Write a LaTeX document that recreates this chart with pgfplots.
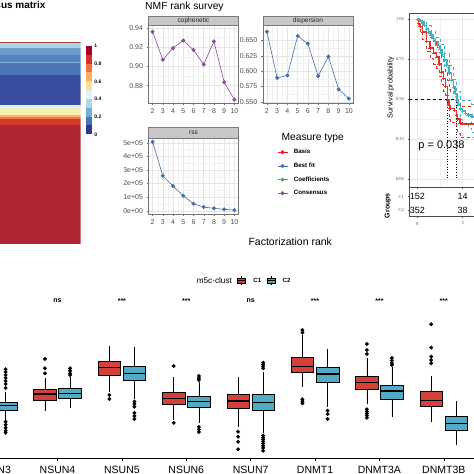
\documentclass[border=0pt]{standalone}
\usepackage{pgfplots}
\pgfplotsset{compat=1.18}
\usepgfplotslibrary{statistics}
\usepackage{fontspec}
\setmainfont{Liberation Sans}
\newfontfamily\serifsmall{Liberation Serif}
\newcommand{\fs}[1]{\fontsize{#1}{#1}\selectfont}

% NMF measure colours
\definecolor{basisred}{HTML}{E41A1C}
\definecolor{bestblue}{HTML}{466EA9}
\definecolor{coefgreen}{HTML}{4DAF4A}
\definecolor{conspurple}{HTML}{8E4A9E}
% survival and boxplot colours
\definecolor{kmred}{HTML}{E2312B}
\definecolor{kmteal}{HTML}{43B2BE}
\definecolor{boxred}{HTML}{D6403B}
\definecolor{boxblue}{HTML}{52AAC3}
\definecolor{stripfill}{HTML}{C8C8C8}
\definecolor{stripline}{HTML}{7A7A7A}
\definecolor{tickgrey}{HTML}{4D4D4D}
% RdYlBu steps, low to high
\definecolor{rb0}{HTML}{313695}
\definecolor{rb1}{HTML}{4575B4}
\definecolor{rb2}{HTML}{74ADD1}
\definecolor{rb3}{HTML}{ABD9E9}
\definecolor{rb4}{HTML}{E0F3F8}
\definecolor{rb5}{HTML}{FEE090}
\definecolor{rb6}{HTML}{FDAE61}
\definecolor{rb7}{HTML}{F46D43}
\definecolor{rb8}{HTML}{D73027}
\definecolor{rb9}{HTML}{A50026}
% consensus matrix row blocks
\definecolor{hmA}{HTML}{9E4A4A}
\definecolor{hmB}{HTML}{A9D3E6}
\definecolor{hmC}{HTML}{6A9CCB}
\definecolor{hmD}{HTML}{5582C0}
\definecolor{hmE}{HTML}{7FAED6}
\definecolor{hmF}{HTML}{4D76B8}
\definecolor{hmG}{HTML}{3A4CA0}
\definecolor{hmH}{HTML}{D7EEF2}
\definecolor{hmI}{HTML}{F2EFB5}
\definecolor{hmJ}{HTML}{FBB765}
\definecolor{hmK}{HTML}{F07A47}
\definecolor{hmL}{HTML}{D43A2C}
\definecolor{hmM}{HTML}{AE2631}

% one horizontal block of the matrix / colour bar
\newcommand{\band}[3]{\addplot[fill=#1, draw=none] coordinates {(0,#2) (1,#2) (1,#3) (0,#3)};}
% one box: position, fill, lower whisker, q1, median, q3, upper whisker, outliers
\newcommand{\bx}[8]{\addplot[forget plot, boxplot prepared={draw direction=y, draw position=#1, lower whisker=#3, lower quartile=#4, median=#5, upper quartile=#6, upper whisker=#7, box extend=0.35, whisker extend=0}, fill=#2, draw=black, line width=0.6pt, mark=*, mark size=1.8pt, mark options={fill=black, draw=black, line width=0.3pt}] coordinates {#8};}

\pgfplotsset{
  nmf/.style={scale only axis, width=90pt, height=78pt, anchor=south west,
    xmin=1.6, xmax=10.4, xtick={2,3,4,5,6,7,8,9,10},
    minor x tick num=1, minor y tick num=1, grid=both,
    major grid style={draw=black!10, line width=0.45pt},
    minor grid style={draw=black!5, line width=0.3pt},
    axis line style={draw=black!55, line width=0.5pt},
    tick pos=left, tick align=outside, major tick length=2pt, minor tick length=0pt,
    every tick/.style={draw=black!55, line width=0.4pt},
    tick label style={font=\fs{7}, text=tickgrey},
    /pgf/number format/assume math mode=true},
  nmfline/.style={line width=0.6pt, mark=*, mark size=1.7pt},
  boxplot/every median/.style={line width=1.3pt},
}

\begin{document}
\begin{tikzpicture}
\useasboundingbox (0pt,0pt) rectangle (474pt,474pt);
\clip (0pt,0pt) rectangle (474pt,474pt);

% ---------- consensus matrix ----------
\begin{axis}[at={(0pt,229.7pt)}, anchor=south west, scale only axis, width=80.7pt, height=202.3pt,
  xmin=0, xmax=1, ymin=0, ymax=504, y dir=reverse, hide axis]
\band{hmA}{0}{3.2}
\band{hmB}{3.2}{15.7}
\band{hmC}{15.7}{32.4}
\band{hmD}{32.4}{49.1}
\band{hmE}{49.1}{53.1}
\band{hmF}{53.1}{82.2}
\band{hmG}{82.2}{157}
\band{hmH}{157}{165.3}
\band{hmI}{165.3}{182}
\band{hmJ}{182}{187.7}
\band{hmK}{187.7}{192.7}
\band{hmL}{192.7}{206.8}
\band{hmM}{206.8}{504}
\end{axis}
\node[anchor=base east, font=\fs{10}\bfseries] at (49pt,465pt) {Consensus matrix};

% colour bar
\begin{axis}[at={(86pt,339.7pt)}, anchor=south west, scale only axis, width=6.3pt, height=88.3pt,
  xmin=0, xmax=1, ymin=0, ymax=1, axis line style={draw=none}, xtick=\empty,
  ytick={0,0.2,0.4,0.6,0.8,1}, yticklabel pos=right, major tick length=0pt,
  yticklabel style={font=\fs{5}\bfseries, xshift=-1.5pt},
  /pgf/number format/assume math mode=true]
\band{rb0}{0}{0.1}
\band{rb1}{0.1}{0.2}
\band{rb2}{0.2}{0.3}
\band{rb3}{0.3}{0.4}
\band{rb4}{0.4}{0.5}
\band{rb5}{0.5}{0.6}
\band{rb6}{0.6}{0.7}
\band{rb7}{0.7}{0.8}
\band{rb8}{0.8}{0.9}
\band{rb9}{0.9}{1}
\end{axis}

% ---------- NMF rank survey ----------
\node[anchor=base west, font=\fs{10.3}] at (141.7pt,464pt) {NMF rank survey};

\begin{axis}[nmf, at={(148.5pt,371pt)}, ymin=0.862, ymax=0.943, ytick={0.88,0.90,0.92,0.94},
  yticklabel style={/pgf/number format/.cd, fixed, fixed zerofill, precision=2}]
\addplot[conspurple, nmfline] coordinates {(2,0.936) (3,0.907) (4,0.919) (5,0.927) (6,0.917) (7,0.902) (8,0.926) (9,0.8835) (10,0.8655)};
\end{axis}

\begin{axis}[nmf, at={(262.8pt,371pt)}, width=90.2pt, ymin=0.5484, ymax=0.6748,
  ytick={0.55,0.575,0.6,0.625,0.65},
  yticklabel style={/pgf/number format/.cd, fixed, fixed zerofill, precision=3}]
\addplot[bestblue, nmfline] coordinates {(2,0.664) (3,0.589) (4,0.593) (5,0.657) (6,0.6445) (7,0.592) (8,0.6236) (9,0.5705) (10,0.5555)};
\end{axis}

\begin{axis}[nmf, at={(148.5pt,260pt)}, height=76pt, ymin=-24000, ymax=535000,
  ytick={0,100000,200000,300000,400000,500000},
  yticklabels={0e+00,1e+05,2e+05,3e+05,4e+05,5e+05}, scaled y ticks=false,
  legend style={at={(axis description cs:1.428,0.855)}, anchor=north west, draw=none, fill=none,
    inner sep=0pt, row sep=7.7pt, column sep=6pt,
    nodes={inner sep=0pt, font=\fs{6.2}\bfseries, text height=4.5pt, text depth=1.5pt}},
  legend cell align=left,
  legend image code/.code={\draw[mark repeat=2, mark phase=2, #1] plot coordinates {(0pt,0pt) (5pt,0pt) (10pt,0pt)};}]
\addlegendimage{basisred, nmfline}
\addlegendentry{Basis}
\addlegendimage{bestblue, nmfline}
\addlegendentry{Best fit}
\addlegendimage{coefgreen, nmfline}
\addlegendentry{Coefficients}
\addlegendimage{conspurple, nmfline}
\addlegendentry{Consensus}
\addplot[bestblue, nmfline, forget plot] coordinates {(2,507000) (3,257000) (4,182000) (5,110000) (6,51000) (7,27000) (8,18000) (9,10000) (10,5000)};
\end{axis}

% facet strips
\draw[fill=stripfill, draw=stripline, line width=0.5pt] (148.5pt,458pt) rectangle (238.5pt,449pt);
\node[font=\fs{6.6}, text=black!85] at (193.5pt,453.5pt) {cophenetic};
\draw[fill=stripfill, draw=stripline, line width=0.5pt] (262.8pt,458pt) rectangle (353pt,449pt);
\node[font=\fs{6.6}, text=black!85] at (307.9pt,453.5pt) {dispersion};
\draw[fill=stripfill, draw=stripline, line width=0.5pt] (148.5pt,346.3pt) rectangle (238.5pt,336pt);
\node[font=\fs{6.6}, text=black!85] at (193.5pt,341.2pt) {rss};

\node[anchor=base west, font=\fs{10.3}] at (278pt,333pt) {Measure type};
\node[anchor=base west, font=\fs{10.5}] at (245pt,228.5pt) {Factorization rank};

% ---------- Kaplan-Meier ----------
\begin{axis}[at={(409.3pt,286.7pt)}, anchor=south west, scale only axis, width=71.5pt, height=174pt,
  xmin=-0.88, xmax=7, ymin=-0.052, ymax=1.0376,
  xtick={0,5}, xticklabels={{},{}}, minor x tick num=1,
  ytick={0,0.25,0.5,0.75,1}, yticklabels={0.00,0.25,0.50,0.75,1.00}, minor y tick num=1,
  grid=both, major grid style={draw=black!9, line width=0.45pt}, minor grid style={draw=black!5, line width=0.3pt},
  axis line style={draw=black!70, line width=0.5pt}, tick pos=left, tick align=outside,
  major tick length=1.8pt, minor tick length=0pt, every tick/.style={draw=black!60, line width=0.4pt},
  yticklabel style={font=\serifsmall\fs{4.5}, text=tickgrey}]
% confidence limits
\addplot[kmred, dashed, line width=0.6pt, const plot] coordinates {(0,1.0) (0.3,0.99) (0.6,0.965) (1.0,0.92) (1.4,0.885) (1.8,0.86) (2.1,0.835) (2.4,0.795) (2.7,0.75) (2.9,0.715) (3.1,0.665) (3.3,0.615) (3.5,0.56) (3.6,0.545) (4.1,0.535) (4.3,0.505) (4.45,0.48) (4.7,0.455) (7.0,0.45)};
\addplot[kmred, dashed, line width=0.6pt, const plot] coordinates {(0,1.0) (0.3,0.92) (0.6,0.875) (1.0,0.80) (1.4,0.755) (1.8,0.72) (2.1,0.695) (2.4,0.645) (2.7,0.59) (2.9,0.55) (3.1,0.50) (3.3,0.44) (3.5,0.375) (3.6,0.355) (4.1,0.345) (4.3,0.31) (4.45,0.285) (4.7,0.26) (7.0,0.255)};
\addplot[kmteal, dashed, line width=0.6pt, const plot] coordinates {(0,1.0) (0.5,0.99) (1.0,0.96) (1.5,0.925) (2.0,0.89) (2.5,0.845) (3.0,0.785) (3.5,0.71) (4.0,0.625) (4.35,0.55) (4.75,0.50) (5.0,0.49) (6.0,0.47) (7.0,0.465)};
\addplot[kmteal, dashed, line width=0.6pt, const plot] coordinates {(0,1.0) (0.5,0.96) (1.0,0.915) (1.5,0.87) (2.0,0.825) (2.5,0.77) (3.0,0.70) (3.5,0.615) (4.0,0.52) (4.35,0.435) (4.75,0.375) (5.0,0.35) (5.6,0.32) (6.0,0.29) (7.0,0.25)};
% median survival
\addplot[black, dashed, line width=0.6pt] coordinates {(-0.88,0.5) (4.35,0.5)};
\addplot[black, dotted, line width=0.7pt] coordinates {(3.35,0.5) (3.35,0)};
\addplot[black, dotted, line width=0.7pt] coordinates {(4.35,0.5) (4.35,0)};
% survival curves
\addplot[kmred, line width=1.4pt, const plot, mark=+, mark size=1.6pt, mark options={line width=0.6pt}] coordinates {(0,1.0) (0.15,0.975) (0.3,0.955) (0.6,0.92) (1.0,0.86) (1.4,0.82) (1.8,0.79) (2.1,0.765) (2.4,0.72) (2.7,0.67) (2.9,0.63) (3.1,0.58) (3.3,0.525) (3.35,0.495) (3.5,0.46) (3.6,0.44) (4.1,0.43) (4.3,0.40) (4.45,0.375) (4.7,0.35) (5.0,0.345) (6.0,0.345) (7.0,0.345)};
\addplot[kmteal, line width=1.6pt, const plot, mark=+, mark size=1.6pt, mark options={line width=0.6pt}] coordinates {(0,1.0) (0.25,0.99) (0.5,0.975) (0.75,0.96) (1.0,0.94) (1.25,0.92) (1.5,0.90) (1.75,0.88) (2.0,0.86) (2.25,0.835) (2.5,0.81) (2.75,0.78) (3.0,0.745) (3.25,0.71) (3.5,0.665) (3.75,0.62) (4.0,0.575) (4.15,0.535) (4.35,0.495) (4.5,0.465) (4.75,0.44) (5.0,0.425) (5.3,0.41) (5.6,0.40) (6.0,0.39) (6.5,0.385) (7.0,0.38)};
\node[font=\fs{11}] at (axis cs:2.67,0.207) {p = 0.038};
\end{axis}
\node[rotate=90, font=\fs{7.3}] at (390.7pt,386.5pt) {Survival probability};

% number at risk
\begin{axis}[at={(409.3pt,257.3pt)}, anchor=south west, scale only axis, width=71.5pt, height=29.4pt,
  xmin=-0.88, xmax=7, ymin=0.5, ymax=2.7, xtick={0,5}, ytick={1,2}, yticklabels={C2,C1},
  tick pos=left, tick align=outside, major tick length=1.8pt,
  axis line style={draw=black!70, line width=0.5pt}, every tick/.style={draw=black!60, line width=0.4pt},
  tick label style={font=\serifsmall\fs{4.5}, text=tickgrey},
  /pgf/number format/assume math mode=true]
\node[font=\fs{9}] at (axis cs:0,2) {152};
\node[font=\fs{9}] at (axis cs:5,2) {14};
\node[font=\fs{9}] at (axis cs:0,1) {352};
\node[font=\fs{9}] at (axis cs:5,1) {38};
\end{axis}
\node[rotate=90, font=\fs{7}\bfseries] at (388pt,268.4pt) {Groups};

% ---------- m5C regulator expression ----------
\begin{axis}[at={(-45.5pt,15.7pt)}, anchor=south west, scale only axis, width=527.9pt, height=168pt,
  xmin=-0.6, xmax=7.6, ymin=0, ymax=14, clip=false,
  axis x line*=bottom, axis y line=none, axis line style={-, draw=black, line width=0.5pt},
  xtick={0,1,2,3,4,5,6,7}, xticklabels={NSUN3,NSUN4,NSUN5,NSUN6,NSUN7,DNMT1,DNMT3A,DNMT3B},
  xticklabel style={font=\fs{10.5}, text=black, yshift=-1.5pt},
  tick align=outside, major tick length=2.5pt, every tick/.style={draw=black, line width=0.5pt},
  legend columns=2,
  legend style={at={(axis description cs:0.5351,1.0571)}, anchor=west, draw=none, fill=none, inner sep=0pt,
    column sep=7.7pt, /tikz/every even column/.append style={column sep=5.3pt},
    nodes={inner sep=0pt, font=\fs{6}\bfseries}},
  legend image code/.code={
    \draw[#1, draw=black, line width=0.4pt] (0pt,-2.8pt) rectangle (8pt,2.8pt);
    \draw[black, line width=0.6pt] (0pt,0pt) -- (8pt,0pt);
    \draw[black, line width=0.4pt] (4pt,2.8pt) -- (4pt,4.3pt) (4pt,-2.8pt) -- (4pt,-4.3pt);}]
\addlegendimage{fill=boxred}
\addlegendentry{C1}
\addlegendimage{fill=boxblue}
\addlegendentry{C2}
% NSUN3
\bx{-0.195}{boxred}{3.0}{4.1}{4.6}{5.1}{6.5}{(0,7.0) (0,2.6)}
\bx{0.195}{boxblue}{3.19}{3.97}{4.38}{4.69}{5.55}{(0,7.42) (0,7.19) (0,6.94) (0,6.69) (0,6.44) (0,6.19) (0,5.86) (0,3.05) (0,2.8) (0,2.55) (0,2.3) (0,2.13)}
% NSUN4
\bx{0.805}{boxred}{3.94}{4.86}{5.36}{5.78}{6.67}{(0,8.28) (0,7.5) (0,7.08)}
\bx{1.195}{boxblue}{4.17}{5.0}{5.42}{5.86}{6.75}{(0,7.5) (0,7.3) (0,7.08) (0,6.94)}
% NSUN5
\bx{1.805}{boxred}{5.55}{6.94}{7.55}{8.08}{9.36}{(0,5.28) (0,4.94)}
\bx{2.195}{boxblue}{4.92}{6.53}{7.08}{7.67}{9.25}{(0,4.72) (0,4.53) (0,4.3) (0,3.78) (0,3.53) (0,3.28)}
% NSUN6
\bx{2.805}{boxred}{3.19}{4.5}{4.97}{5.5}{6.8}{(0,7.69) (0,2.95)}
\bx{3.195}{boxblue}{2.92}{4.22}{4.72}{5.17}{6.36}{(0,6.86) (0,6.69) (0,6.53) (0,2.61) (0,2.4) (0,2.19)}
% NSUN7
\bx{3.805}{boxred}{2.63}{4.13}{4.78}{5.33}{6.78}{(0,2.22) (0,1.8) (0,1.38) (0,0.75)}
\bx{4.195}{boxblue}{2.08}{3.97}{4.63}{5.33}{7.22}{(0,7.97) (0,7.82) (0,7.67) (0,7.5) (0,1.9) (0,1.73) (0,1.57) (0,1.4) (0,1.23) (0,1.03) (0,0.86) (0,0.63)}
% DNMT1
\bx{4.805}{boxred}{5.97}{7.13}{7.67}{8.42}{10.28}{(0,10.69) (0,10.47) (0,4.92) (0,4.75) (0,4.58)}
\bx{5.195}{boxblue}{4.3}{6.33}{7.03}{7.55}{9.08}{(0,3.97) (0,3.69) (0,3.28)}
% DNMT3A
\bx{5.805}{boxred}{4.53}{5.78}{6.3}{6.86}{8.33}{(0,9.53) (0,9.03) (0,8.69) (0,4.08) (0,3.9) (0,3.73) (0,3.57) (0,3.38)}
\bx{6.195}{boxblue}{3.42}{4.94}{5.61}{6.05}{7.61}{(0,8.36) (0,8.15) (0,7.94) (0,7.78)}
% DNMT3B
\bx{6.805}{boxred}{3.05}{4.3}{4.8}{5.55}{6.88}{(0,11.17) (0,9.22) (0,8.47) (0,8.19) (0,7.92)}
\bx{7.195}{boxblue}{1.13}{2.3}{2.88}{3.47}{4.75}{}
% significance of C1 vs C2
\node[font=\fs{7}\bfseries] at (axis cs:1,13.13) {ns};
\node[font=\fs{7}\bfseries] at (axis cs:2,13.13) {***};
\node[font=\fs{7}\bfseries] at (axis cs:3,13.13) {***};
\node[font=\fs{7}\bfseries] at (axis cs:4,13.13) {ns};
\node[font=\fs{7}\bfseries] at (axis cs:5,13.13) {***};
\node[font=\fs{7}\bfseries] at (axis cs:6,13.13) {***};
\node[font=\fs{7}\bfseries] at (axis cs:7,13.13) {***};
\end{axis}
\node[anchor=west, font=\fs{8.2}] at (193.3pt,193.3pt) {m5c-clust};

\end{tikzpicture}
\end{document}
